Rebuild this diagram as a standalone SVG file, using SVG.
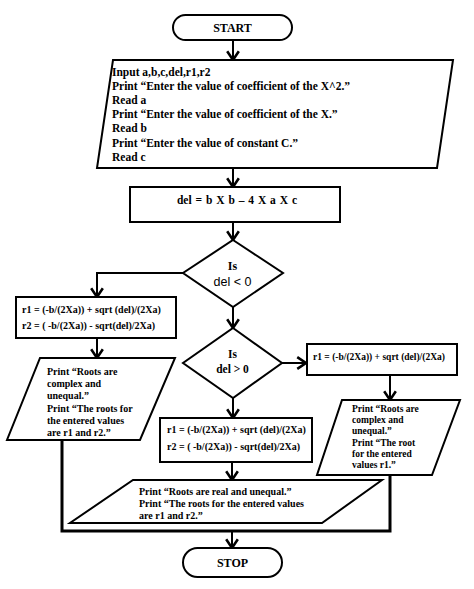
<svg xmlns="http://www.w3.org/2000/svg" width="474" height="589" viewBox="0 0 474 589">
<style>
.s{fill:#fff;stroke:#000;stroke-width:2}
.c{fill:none;stroke:#000;stroke-width:2}
.u{fill:none;stroke:#000;stroke-width:3}
text{font-family:"Liberation Serif","Times New Roman",serif;font-weight:bold;fill:#000}
.t12{font-size:12px}
.t11{font-size:11.5px}
.t10{font-size:10px}
.t95{font-size:9.5px}
.sans{font-family:"Liberation Sans",Arial,sans-serif;font-weight:normal;font-size:12.5px}
</style>
<defs>
<marker id="ah" markerUnits="userSpaceOnUse" markerWidth="14" markerHeight="14" viewBox="0 0 10 12" refX="8.5" refY="6" orient="auto">
<path d="M1,1 L8.5,6 L1,11" fill="none" stroke="#000" stroke-width="2.2"/>
</marker>
</defs>
<rect width="474" height="589" fill="#fff"/>
<g id="connectors">
<path class="c" d="M233,40 V60" marker-end="url(#ah)"/>
<path class="c" d="M233,168 V187" marker-end="url(#ah)"/>
<path class="c" d="M233,222 V240" marker-end="url(#ah)"/>
<path class="c" d="M183,273 H97 V297" marker-end="url(#ah)"/>
<path class="c" d="M233,307 V328" marker-end="url(#ah)"/>
<path class="c" d="M97,338 V358" marker-end="url(#ah)"/>
<path class="c" d="M282,363 H306" marker-end="url(#ah)"/>
<path class="c" d="M233,398 V418" marker-end="url(#ah)"/>
<path class="c" d="M390,375 V400" marker-end="url(#ah)"/>
<path class="c" d="M232,462 V480" marker-end="url(#ah)"/>
<path class="u" d="M62,440 V531 H390 V475"/>
<path class="c" d="M232,531 V548" marker-end="url(#ah)"/>
</g>
<g id="start">
<rect class="s" x="173" y="15" width="119" height="25" rx="12.5"/>
<text class="t12" x="232.5" y="32" text-anchor="middle">START</text>
</g>
<g id="input">
<polygon class="s" points="113,60 453,60 437,168 97,168"/>
<text class="t11" x="112" y="76">Input a,b,c,del,r1,r2</text>
<text class="t11" x="112" y="90">Print “Enter the value of coefficient  of the X^2.”</text>
<text class="t11" x="112" y="104">Read a</text>
<text class="t11" x="112" y="118">Print “Enter the value of coefficient  of the X.”</text>
<text class="t11" x="112" y="132">Read b</text>
<text class="t11" x="112" y="147">Print “Enter the value of constant C.”</text>
<text class="t11" x="112" y="161">Read c</text>
</g>
<g id="del">
<rect class="s" x="130" y="187" width="210" height="35"/>
<text class="t11" x="237" y="204" text-anchor="middle" word-spacing="1">del = b X b – 4 X a X c</text>
</g>
<g id="dec1">
<polygon class="s" points="233,240 283,273 233,307 183,273"/>
<text class="t12" x="232.5" y="270" text-anchor="middle">Is</text>
<text class="sans" x="232.5" y="286" text-anchor="middle">del &lt; 0</text>
</g>
<g id="leftbox">
<rect class="s" x="16" y="297" width="160" height="41"/>
<text class="t10" x="22" y="313">r1 = (-b/(2Xa)) + sqrt (del)/(2Xa)</text>
<text class="t10" x="22" y="329">r2 = ( -b/(2Xa)) - sqrt(del)/2Xa)</text>
</g>
<g id="leftpara">
<polygon class="s" points="40,358 175,358 140,440 7,440"/>
<text class="t10" x="47" y="375">Print “Roots are</text>
<text class="t10" x="47" y="387">complex and</text>
<text class="t10" x="47" y="399">unequal.”</text>
<text class="t10" x="47" y="412">Print “The roots for</text>
<text class="t10" x="47" y="424">the entered  values</text>
<text class="t10" x="47" y="436">are r1 and r2.”</text>
</g>
<g id="dec2">
<polygon class="s" points="233,328 282,363 233,398 183,363"/>
<text class="t11" x="232.5" y="358" text-anchor="middle">Is</text>
<text class="t11" x="232.5" y="373" text-anchor="middle">del &gt; 0</text>
</g>
<g id="rightbox">
<rect class="s" x="307" y="344" width="150" height="31"/>
<text class="t95" x="313" y="360">r1 = (-b/(2Xa)) + sqrt (del)/(2Xa)</text>
</g>
<g id="rightpara">
<polygon class="s" points="342,400 460,400 432,475 317,475"/>
<text class="t95" x="352" y="412">Print “Roots are</text>
<text class="t95" x="352" y="423">complex and</text>
<text class="t95" x="352" y="434">unequal.”</text>
<text class="t95" x="352" y="446">Print “The root</text>
<text class="t95" x="352" y="457">for the entered</text>
<text class="t95" x="352" y="468">values r1.”</text>
</g>
<g id="midbox">
<rect class="s" x="160" y="418" width="152" height="44"/>
<text class="t10" x="167" y="433">r1 = (-b/(2Xa))  + sqrt (del)/(2Xa)</text>
<text class="t10" x="167" y="450">r2 = ( -b/(2Xa))  - sqrt(del)/2Xa)</text>
</g>
<g id="output">
<polygon class="s" points="133,480 382,480 322,523 70,523"/>
<text class="t10" x="139" y="495">Print “Roots are real and unequal.”</text>
<text class="t10" x="139" y="507">Print “The roots for the entered  values</text>
<text class="t10" x="139" y="519">are r1 and r2.”</text>
</g>
<g id="stop">
<rect class="s" x="183" y="548" width="99" height="29" rx="14.5"/>
<text class="t12" x="232.5" y="567" text-anchor="middle">STOP</text>
</g>
</svg>
